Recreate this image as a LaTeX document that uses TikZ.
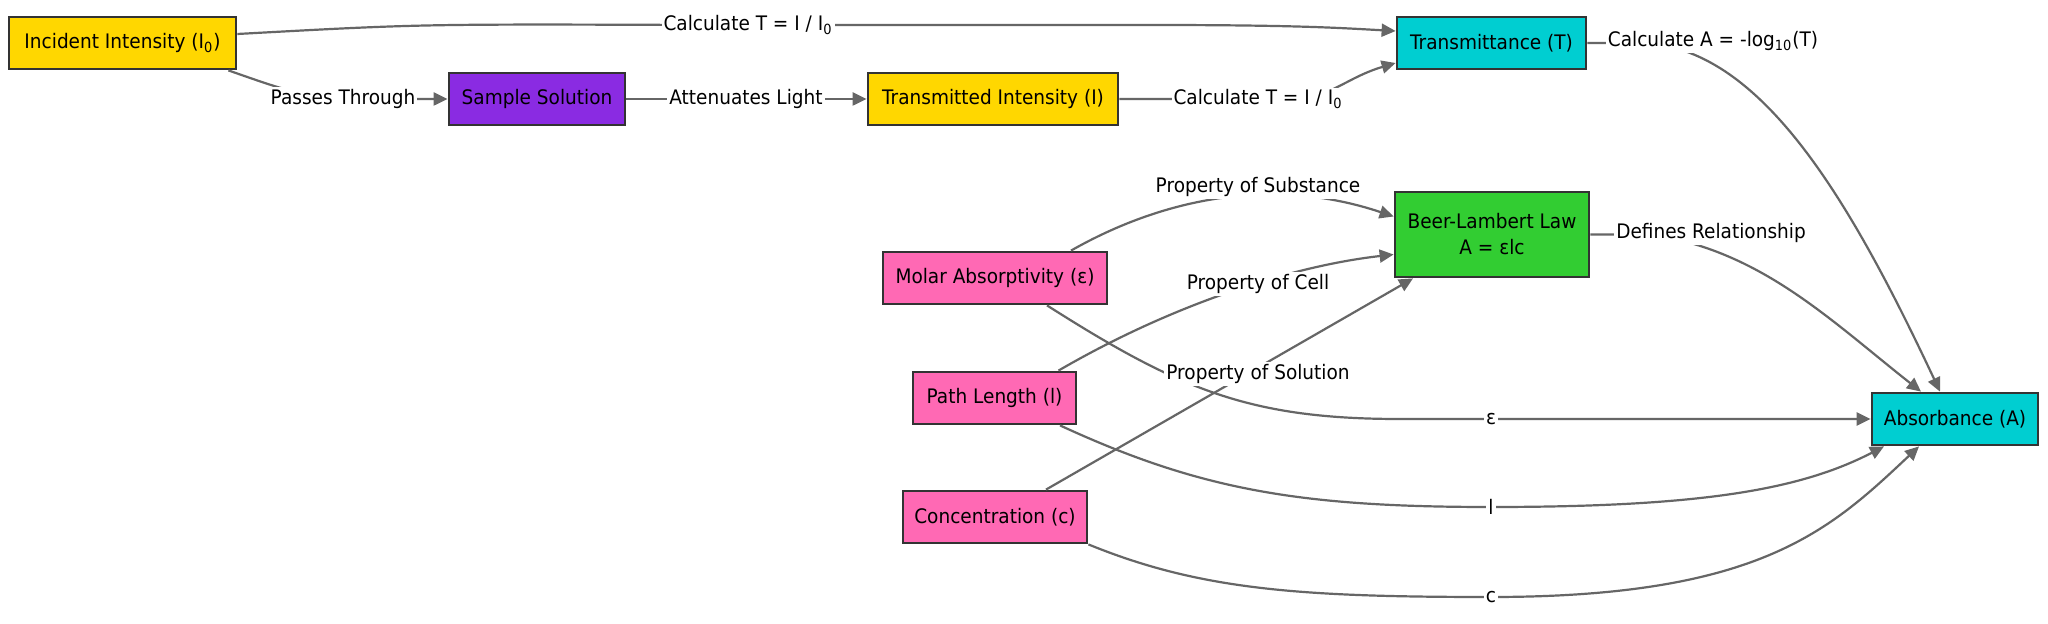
\documentclass[tikz,border=0pt]{standalone}
\usepackage{fontspec}
\setmainfont{DejaVu Sans}[FakeStretch=0.925]
\usetikzlibrary{arrows.meta}
\definecolor{cyel}{HTML}{FFD700}
\definecolor{cpur}{HTML}{8A2BE2}
\definecolor{ccya}{HTML}{00CED1}
\definecolor{cgrn}{HTML}{32CD32}
\definecolor{cpnk}{HTML}{FF69B4}
\definecolor{cbrd}{HTML}{333333}
\definecolor{cedg}{HTML}{666666}
\begin{document}
\begin{tikzpicture}[x=0.5pt,y=-0.5pt, font=\fontsize{10pt}{13pt}\selectfont,
 box/.style={draw=cbrd, line width=1.4pt, minimum height=26pt, inner sep=2pt, align=center, text=black},
 edge/.style={draw=cedg, line width=1.1pt, -{Triangle[length=7pt,width=6.5pt]}},
 lbl/.style={fill=white, inner sep=1pt, text=black}]
\useasboundingbox[fill=white] (0,0) rectangle (2048,624);

\node[box, fill=cyel, minimum width=113.5pt] (inc) at (122.5,43) {Incident Intensity (I\textsubscript{0})};
\node[box, fill=cpur, minimum width=88pt] (sam) at (537,99) {Sample Solution};
\node[box, fill=cyel, minimum width=125pt] (tri) at (993,99) {Transmitted Intensity (I)};
\node[box, fill=ccya, minimum width=94.5pt] (trn) at (1491.5,43) {Transmittance (T)};
\node[box, fill=cgrn, minimum width=97pt, minimum height=42.5pt] (bll) at (1492,234.5) {Beer-Lambert Law\\A = εlc};
\node[box, fill=cpnk, minimum width=112pt] (mol) at (995,278) {Molar Absorptivity (ε)};
\node[box, fill=cpnk, minimum width=81.5pt] (pl) at (994.5,398) {Path Length (l)};
\node[box, fill=cpnk, minimum width=92pt] (con) at (995,517) {Concentration (c)};
\node[box, fill=ccya, minimum width=83pt] (abs) at (1955,419) {Absorbance (A)};

\draw[edge] ([yshift=4.5pt]inc.east) .. controls (420,24) .. (700,25) -- (1150,25) .. controls (1300,25) and (1340,28) .. ([yshift=6pt]trn.west);
\draw[edge] ([xshift=-4.5pt]inc.south east) .. controls (290,92) .. (343,99) -- (sam.west);
\draw[edge] (sam.east) -- (tri.west);
\draw[edge] (tri.east) -- (1290,99) .. controls (1330,99) and (1345,78) .. ([yshift=-10pt]trn.west);
\draw[edge] (trn.east) -- (1640,43) .. controls (1760,45) and (1850,200) .. ([xshift=-7.5pt]abs.north);
\draw[edge] (bll.east) -- (1650,234.5) .. controls (1760,250) and (1830,320) .. ([xshift=-17pt]abs.north);
\draw[edge] ([xshift=38pt]mol.north) .. controls (1160,200) and (1270,175) .. ([yshift=9pt]bll.west);
\draw[edge] ([xshift=32pt]pl.north) .. controls (1180,300) and (1300,265) .. ([yshift=-10pt]bll.west);
\draw[edge] ([xshift=25.5pt]con.north) -- ([xshift=-39.5pt]bll.south);
\draw[edge] ([xshift=26pt]mol.south) .. controls (1180,390) and (1250,419) .. (1400,419) -- (abs.west);
\draw[edge] ([xshift=32.75pt]pl.south) .. controls (1200,490) and (1300,507) .. (1491,507) .. controls (1700,507) and (1800,490) .. ([xshift=-35.5pt]abs.south);
\draw[edge] (con.south east) .. controls (1200,590) and (1300,597) .. (1491,597) .. controls (1760,597) and (1830,530) .. ([xshift=-18pt]abs.south);

\node[lbl] (l1) at (748,25) {Calculate T = I / I\textsubscript{0}};
\node[lbl] (l2) at (343,99) {Passes Through};
\node[lbl] (l3) at (746,99) {Attenuates Light};
\node[lbl] (l4) at (1258,99) {Calculate T = I / I\textsubscript{0}};
\node[lbl] (l5) at (1713,41) {Calculate A = -log\textsubscript{10}(T)};
\node[lbl] (l6) at (1711,233) {Defines Relationship};
\node[lbl] (l7) at (1258,187) {Property of Substance};
\node[lbl] (l8) at (1258,284) {Property of Cell};
\node[lbl] (l9) at (1258,374) {Property of Solution};
\node[lbl] (l10) at (1491,419) {ε};
\node[lbl] (l11) at (1491,507) {l};
\node[lbl] (l12) at (1491,597) {c};
\end{tikzpicture}
\end{document}
